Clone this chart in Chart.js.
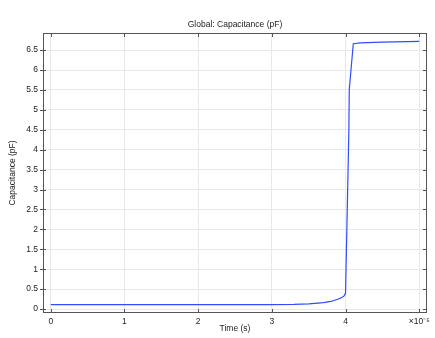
<!DOCTYPE html>
<html>
<head>
<meta charset="utf-8">
<script src="https://cdn.jsdelivr.net/npm/chart.js@4"></script>
<style>
  html, body { margin: 0; padding: 0; background: #fff; }
  #wrap { width: 435px; height: 338px; }
</style>
</head>
<body>
<div id="wrap"><canvas id="chart" width="435" height="338"></canvas></div>
<script>
// Time in units of 1e-5 s, capacitance in pF
const timeE5 = [0, 1, 2, 3, 3.3, 3.5, 3.7, 3.8, 3.9, 3.95, 3.98, 4.0, 4.045, 4.05, 4.105, 4.2, 4.5, 5.0];
const capacitance = [0.11, 0.11, 0.11, 0.11, 0.115, 0.13, 0.16, 0.19, 0.25, 0.29, 0.33, 0.40, 4.5, 5.5, 6.66, 6.68, 6.70, 6.72];
const xTicks = [0, 1, 2, 3, 4, 5];
const yTicks = [0, 0.5, 1, 1.5, 2, 2.5, 3, 3.5, 4, 4.5, 5, 5.5, 6, 6.5];
const chartTitle = "Global: Capacitance (pF)";

const FONT = "'Liberation Sans', Arial, sans-serif";
const FS = 8.5;
const axisColor = "#555";

// COMSOL style frame with inward ticks, title centred over the plot area
const framePlugin = {
    id: "frame",
    afterDraw(chart) {
        const ctx = chart.ctx;
        const a = chart.chartArea;
        const xs = chart.scales.x, ys = chart.scales.y;
        ctx.save();
        ctx.strokeStyle = axisColor;
        ctx.lineWidth = 1;
        ctx.strokeRect(a.left + 0.5, a.top + 0.5, a.right - a.left - 1, a.bottom - a.top - 1);
        ctx.beginPath();
        xTicks.forEach(v => {
            const px = Math.round(xs.getPixelForValue(v)) + 0.5;
            ctx.moveTo(px, a.bottom); ctx.lineTo(px, a.bottom - 4);
            ctx.moveTo(px, a.top); ctx.lineTo(px, a.top + 4);
        });
        yTicks.forEach(v => {
            const py = Math.round(ys.getPixelForValue(v)) + 0.5;
            ctx.moveTo(a.left - 3, py); ctx.lineTo(a.left + 3, py);
            ctx.moveTo(a.right, py); ctx.lineTo(a.right - 4, py);
        });
        ctx.stroke();
        ctx.fillStyle = "#222";
        ctx.font = FS + "px " + FONT;
        ctx.textAlign = "center";
        ctx.textBaseline = "middle";
        ctx.fillText(chartTitle, (a.left + a.right) / 2, 25);
        ctx.restore();
    }
};

new Chart(document.getElementById("chart"), {
    type: "line",
    data: {
        datasets: [{
            data: timeE5.map((t, i) => ({ x: t, y: capacitance[i] })),
            borderColor: "#2f4dff",
            borderWidth: 1.2,
            pointRadius: 0,
            tension: 0,
            fill: false
        }]
    },
    options: {
        responsive: false,
        animation: false,
        layout: { padding: { left: 0, right: 8, top: 33, bottom: 0 } },
        plugins: {
            legend: { display: false },
            tooltip: { enabled: false },
            title: { display: false }
        },
        scales: {
            x: {
                type: "linear",
                min: -0.105,
                max: 5.105,
                afterBuildTicks: s => { s.ticks = xTicks.map(v => ({ value: v })); },
                afterFit: s => { s.height = 25; },
                grid: { color: "#e8e8e8", drawTicks: false },
                border: { display: false },
                ticks: {
                    padding: 4,
                    color: "#222",
                    font: { family: FONT, size: FS },
                    maxRotation: 0,
                    callback: v => v === 5 ? "×10⁻⁵" : String(v)
                },
                title: {
                    display: true,
                    text: "Time (s)",
                    color: "#222",
                    font: { family: FONT, size: FS },
                    padding: { top: 0, bottom: 4 }
                }
            },
            y: {
                min: -0.1,
                max: 6.93,
                afterBuildTicks: s => { s.ticks = yTicks.map(v => ({ value: v })); },
                afterFit: s => { s.width = 43; },
                grid: { color: "#e8e8e8", drawTicks: false },
                border: { display: false },
                ticks: {
                    padding: 5,
                    color: "#222",
                    font: { family: FONT, size: FS },
                    callback: v => String(v)
                },
                title: {
                    display: true,
                    text: "Capacitance (pF)",
                    color: "#222",
                    font: { family: FONT, size: FS },
                    padding: { top: 8, bottom: 0 }
                }
            }
        }
    },
    plugins: [framePlugin]
});
</script>
</body>
</html>
